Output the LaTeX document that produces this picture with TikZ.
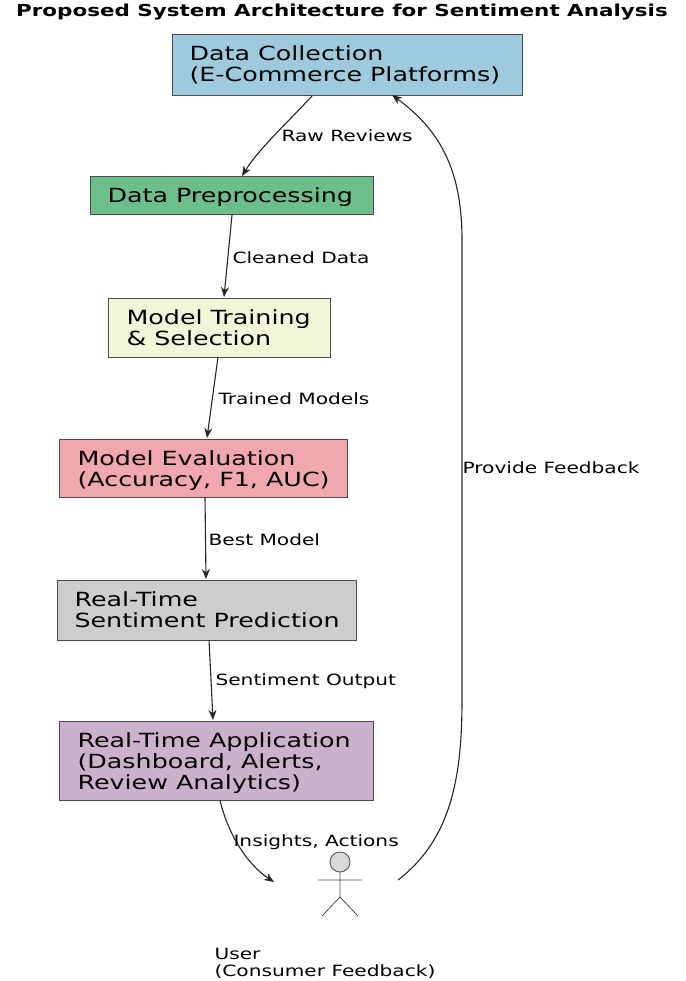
\documentclass[tikz,border=0pt]{standalone}
\usepackage{fontspec}
\setmainfont{DejaVu Sans}[FakeStretch=1.3]
\usetikzlibrary{arrows.meta}
\definecolor{cblue}{HTML}{9DCBDD}
\definecolor{cgreen}{HTML}{6CBF8A}
\definecolor{ccream}{HTML}{F4F6D8}
\definecolor{cpink}{HTML}{F0A7AE}
\definecolor{cgrey}{HTML}{CCCDCC}
\definecolor{cpurple}{HTML}{CBB1CC}
\begin{document}
\begin{tikzpicture}[x=1pt,y=-1pt,
 box/.style={draw=black!70,line width=1pt,anchor=north west,inner sep=0pt},
 btxt/.style={anchor=north west,align=left,font=\fontsize{19.5}{21}\selectfont},
 lbl/.style={anchor=west,font=\fontsize{15.5}{17}\selectfont},
 arr/.style={-{Stealth[length=10pt,width=8pt]},line width=1.1pt,black!85}]
\useasboundingbox (0,0) rectangle (685,981);
\node[font=\bfseries\fontsize{16.5}{18}\selectfont] (title) at (342,12) {Proposed System Architecture for Sentiment Analysis};
% boxes
\filldraw[box,fill=cblue] (172,35) rectangle (522,96);
\node[btxt] (dc) at (186,42) {Data Collection\\(E-Commerce Platforms)};
\filldraw[box,fill=cgreen] (90,177) rectangle (373,215);
\node[btxt] (dp) at (104,184) {Data Preprocessing};
\filldraw[box,fill=ccream] (108,298) rectangle (330,357);
\node[btxt] (mt) at (123,306) {Model Training\\\& Selection};
\filldraw[box,fill=cpink] (59,439) rectangle (347,497);
\node[btxt] (me) at (74,447) {Model Evaluation\\(Accuracy, F1, AUC)};
\filldraw[box,fill=cgrey] (57,580) rectangle (356,640);
\node[btxt] (rt) at (71,588) {Real-Time\\Sentiment Prediction};
\filldraw[box,fill=cpurple] (59,721) rectangle (373,800);
\node[btxt] (ra) at (74,729) {Real-Time Application\\(Dashboard, Alerts,\\Review Analytics)};
% coordinates
\coordinate (dcb) at (312,96); \coordinate (dct) at (242,176);
\coordinate (dpb) at (232,215); \coordinate (mtt) at (224,297);
\coordinate (mtb) at (218,357); \coordinate (met) at (207,438);
\coordinate (meb) at (205,497); \coordinate (rtt) at (206,579);
\coordinate (rtb) at (209,640); \coordinate (rat) at (213,720);
\coordinate (rab) at (220,800); \coordinate (usr) at (274,882);
\coordinate (ufb) at (398,880); \coordinate (dcf) at (392,95);
\draw[arr] (dcb) .. controls (285,125) and (258,150) .. (dct);
\node[lbl] at (278,136) {Raw Reviews};
\draw[arr] (dpb) -- (mtt);
\node[lbl] at (229,258) {Cleaned Data};
\draw[arr] (mtb) -- (met);
\node[lbl] at (215,399) {Trained Models};
\draw[arr] (meb) -- (rtt);
\node[lbl] at (205,540) {Best Model};
\draw[arr] (rtb) -- (rat);
\node[lbl] at (212,681) {Sentiment Output};
\draw[arr] (rab) .. controls (228,835) and (248,865) .. (usr);
\node[lbl] at (230,842) {Insights, Actions};
\draw[arr] (ufb) .. controls (450,840) and (462,780) .. (462,700) -- (462,240) .. controls (462,170) and (440,130) .. (dcf);
\node[lbl] at (459,468) {Provide Feedback};
% actor
\filldraw[fill=black!15,draw=black!70,line width=0.8pt] (340,862) circle (10);
\draw[black!70,line width=0.8pt] (340,872) -- (340,897) (318,880) -- (362,880) (322,916) -- (340,897) -- (358,916);
\node[anchor=north west,align=left,font=\fontsize{15.5}{17}\selectfont] (user) at (211,945) {User\\(Consumer Feedback)};
\end{tikzpicture}
\end{document}
